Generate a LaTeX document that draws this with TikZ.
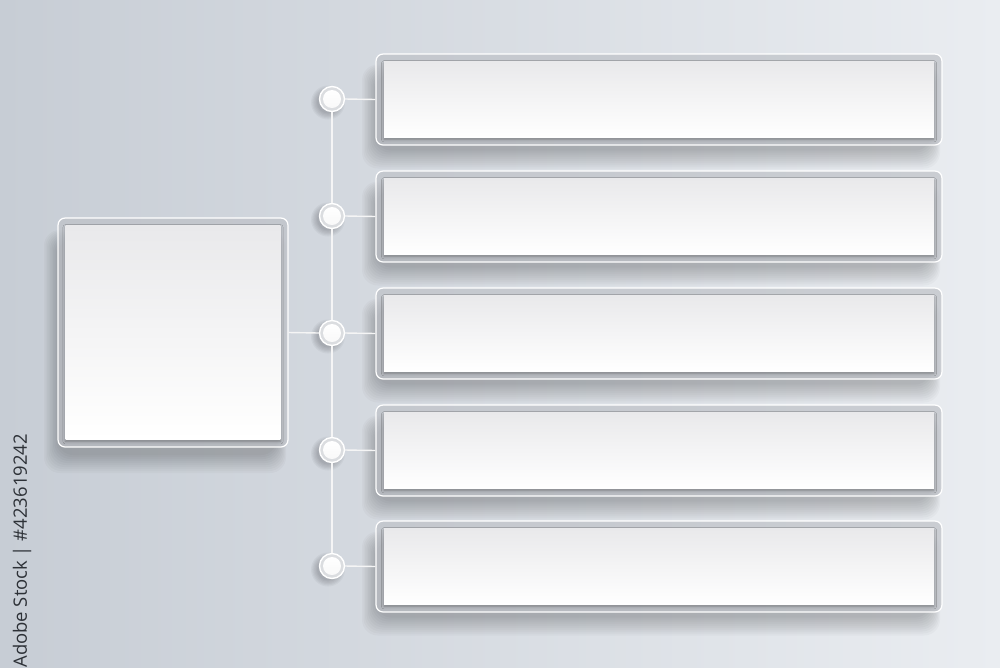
\documentclass[tikz,border=0pt]{standalone}
\usepackage{fontspec}
\usepackage{tikz}
\usetikzlibrary{shadows.blur}
\setsansfont{Open Sans}
\definecolor{bgleft}{RGB}{199,205,213}
\definecolor{bgright}{RGB}{234,237,241}
\definecolor{rim}{RGB}{190,193,199}
\definecolor{cardtop}{RGB}{233,233,235}
\definecolor{idtext}{RGB}{45,49,55}

\begin{document}
\begin{tikzpicture}[x=0.02cm, y=-0.02cm,
    haze/.style={black, opacity=0.022, rounded corners=9pt},
    frame/.style={draw=white, line width=0.7pt, fill=rim, fill opacity=0.7, rounded corners=4pt},
    card/.style={top color=cardtop, bottom color=white, inner sep=0pt,
        blur shadow={shadow xshift=0pt, shadow yshift=-1pt, shadow blur radius=1.5pt, shadow opacity=30}},
    ring/.style={circle, draw=white, line width=0.8pt, fill=rim!55!white, minimum size=0.5cm, inner sep=0pt},
    dot/.style={circle, top color=white, bottom color=white!95!gray, minimum size=0.36cm, inner sep=0pt},
    wire/.style={white!92!gray, line width=0.8pt}]
    \clip (0,0) rectangle (1000,667);
    \shade[left color=bgleft, right color=bgright] (0,0) rectangle (1000,667);
    \foreach \k in {0,...,9}
        \fill[haze] (58-14+\k*1.5, 218+12+\k) rectangle (288-2-\k, 447+26-\k*2);
    \node[frame, minimum width=4.6cm, minimum height=4.58cm] (main) at (173,332.5) {};
    \node[card, minimum width=4.3cm, minimum height=4.28cm] (maincard) at (173,332.5) {};
    \foreach \i/\y in {1/99.5, 2/216.5, 3/333.5, 4/450.5, 5/566.5} {
        \foreach \k in {0,...,9}
            \fill[haze] (376-14+\k*1.5, \y-45+10+\k) rectangle (942-2-\k, \y+45+24-\k*2);
        \foreach \k in {0,...,5}
            \fill[black, opacity=0.035] (328,\y+3) circle (17-\k*1.2);
        \node[frame, minimum width=11.32cm, minimum height=1.82cm] (bar\i) at (659,\y) {};
        \node[card, minimum width=11cm, minimum height=1.52cm] (card\i) at (659,\y) {};
        \node[ring] (c\i) at (332,\y-0.5) {};
        \node[dot] (d\i) at (c\i) {};
        \draw[wire] (c\i.east) -- (bar\i.west);
    }
    \foreach \a/\b in {1/2, 2/3, 3/4, 4/5}
        \draw[wire] (c\a.south) -- (c\b.north);
    \draw[wire] (main.east) -- (c3.west);
    \node[rotate=90, anchor=east, text=idtext, font=\sffamily\fontsize{10.5}{12}\selectfont] (stockid) at (22,428) {Adobe Stock | \#423619242};
\end{tikzpicture}
\end{document}
